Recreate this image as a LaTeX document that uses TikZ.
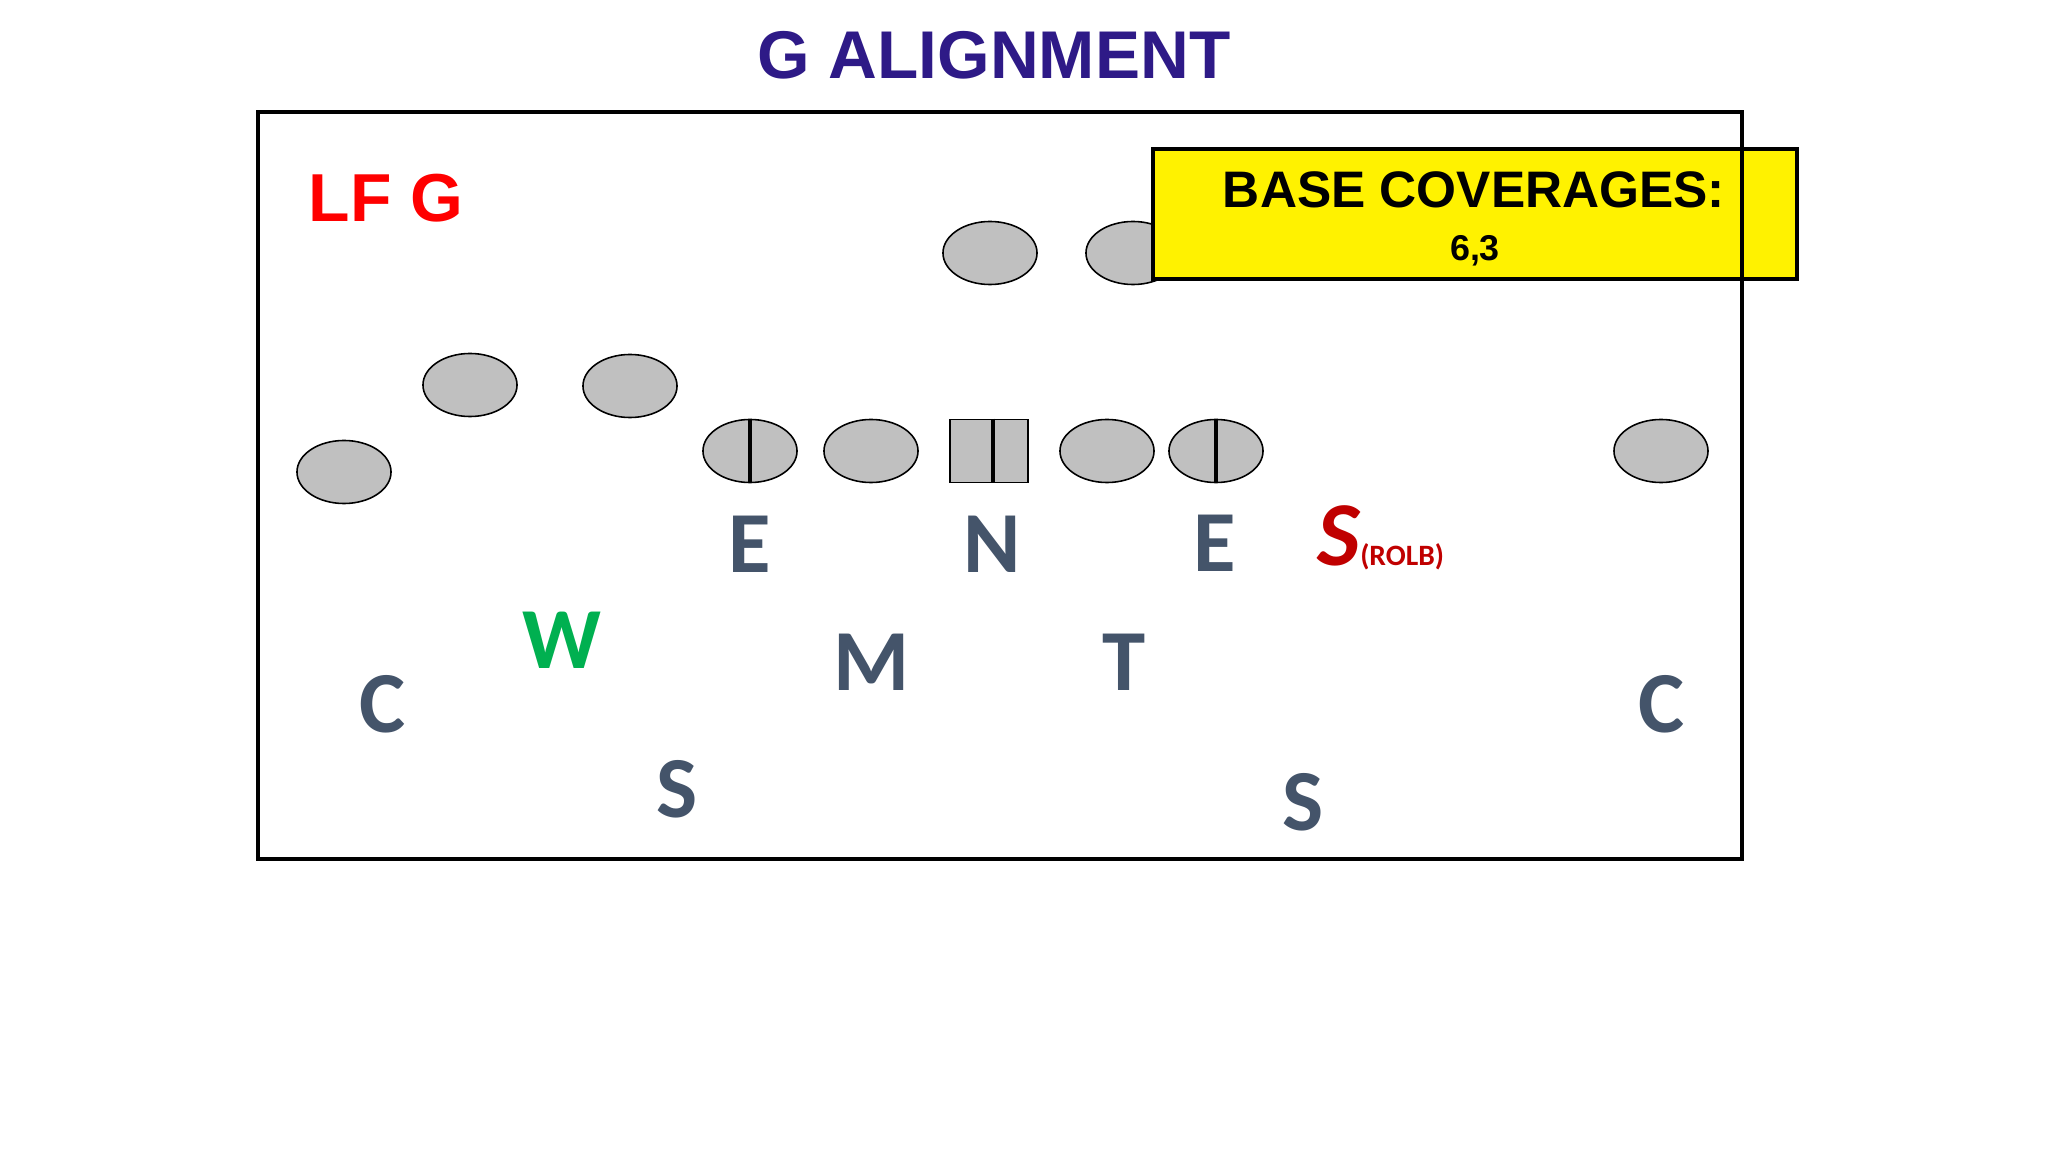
\documentclass[tikz,border=0pt]{standalone}
\usepackage{fontspec}
\setmainfont{Liberation Sans}
\newfontfamily\markfont{Carlito}
\usepackage{tikz}
\usetikzlibrary{shapes.geometric,positioning}
\definecolor{titleblue}{HTML}{2E1A87}
\definecolor{slate}{HTML}{44546A}
\definecolor{rolbred}{HTML}{C00000}
\definecolor{willgreen}{HTML}{00B050}
\definecolor{ballgray}{HTML}{C0C0C0}

\begin{document}
\begin{tikzpicture}[
    x=0.01cm, y=-0.01cm,
    player/.style={ellipse, draw=black, line width=0.45pt, fill=ballgray, minimum width=0.94cm, minimum height=0.63cm, inner sep=0pt},
    snapper/.style={rectangle, draw=black, line width=0.45pt, fill=ballgray, minimum width=0.78cm, minimum height=0.63cm, inner sep=0pt},
    defender/.style={anchor=base, inner sep=0pt, text=slate, font=\markfont\bfseries\fontsize{24.75}{28}\selectfont},
    bar/.style={line width=1.4pt},
    heading/.style={anchor=base, inner sep=0pt, font=\bfseries\fontsize{19.2}{22}\selectfont}
]
\useasboundingbox[fill=white] (0,0) rectangle (2048,1152);

% Title
\node[heading, text=titleblue] (title) at (994,79) {G ALIGNMENT};

% Offense - backfield
\node[player] (qb) at (990,253) {};
\node[player] (rb) at (1133,253) {};

% Offense - wing and slot
\node[player] (wing) at (470,385) {};
\node[player] (slot) at (630,386) {};
\node[player] (wide) at (344,472) {};

% Offense - line
\node[player] (lt) at (750,451) {};
\node[player] (lg) at (871,451) {};
\node[snapper] (ctr) at (989,451) {};
\node[player] (rg) at (1107,451) {};
\node[player] (rt) at (1216,451) {};
\node[player] (split) at (1661,451) {};
\draw[bar] (lt.north) -- (lt.south);
\draw[bar] ([xshift=0.04cm]ctr.north) -- ([xshift=0.04cm]ctr.south);
\draw[bar] (rt.north) -- (rt.south);

% Coverage box
\node[rectangle, draw=black, line width=1pt, fill=yellow, minimum width=6.44cm, minimum height=1.3cm, inner sep=0pt] (callbox) at (1475,214) {};

% Field frame
\draw[line width=1.15pt] (258,112) rectangle (1742,859);

% Labels
\node[heading, anchor=base west, text=red, font=\bfseries\fontsize{19.3}{22}\selectfont] (call) at (308,222) {LF G};
\node[heading, font=\bfseries\fontsize{14.6}{17}\selectfont] (basecov) at (1474,208) {BASE COVERAGES:};
\node[heading, font=\bfseries\fontsize{10.2}{12}\selectfont] (covnums) at (1475,261) {6,3};

% Defense - front
\node[defender] (lend) at (750,573) {E};
\node[defender] (nose) at (992,573) {N};
\node[defender] (rend) at (1215,571) {E};
\node[defender, anchor=base west, text=rolbred] (sam) at (1317,565) {{\fontsize{26}{28}\selectfont\itshape S}{\fontsize{8.4}{10}\selectfont(ROLB)}};

% Defense - linebackers
\node[defender, text=willgreen] (will) at (562,669) {W};
\node[defender] (mike) at (872,690) {M};
\node[defender] (tackle) at (1124,690) {T};

% Defense - secondary
\node[defender] (lcb) at (383,732) {C};
\node[defender] (rcb) at (1662,732) {C};
\node[defender] (lsaf) at (677,817) {S};
\node[defender] (rsaf) at (1303,830) {S};

\end{tikzpicture}
\end{document}
